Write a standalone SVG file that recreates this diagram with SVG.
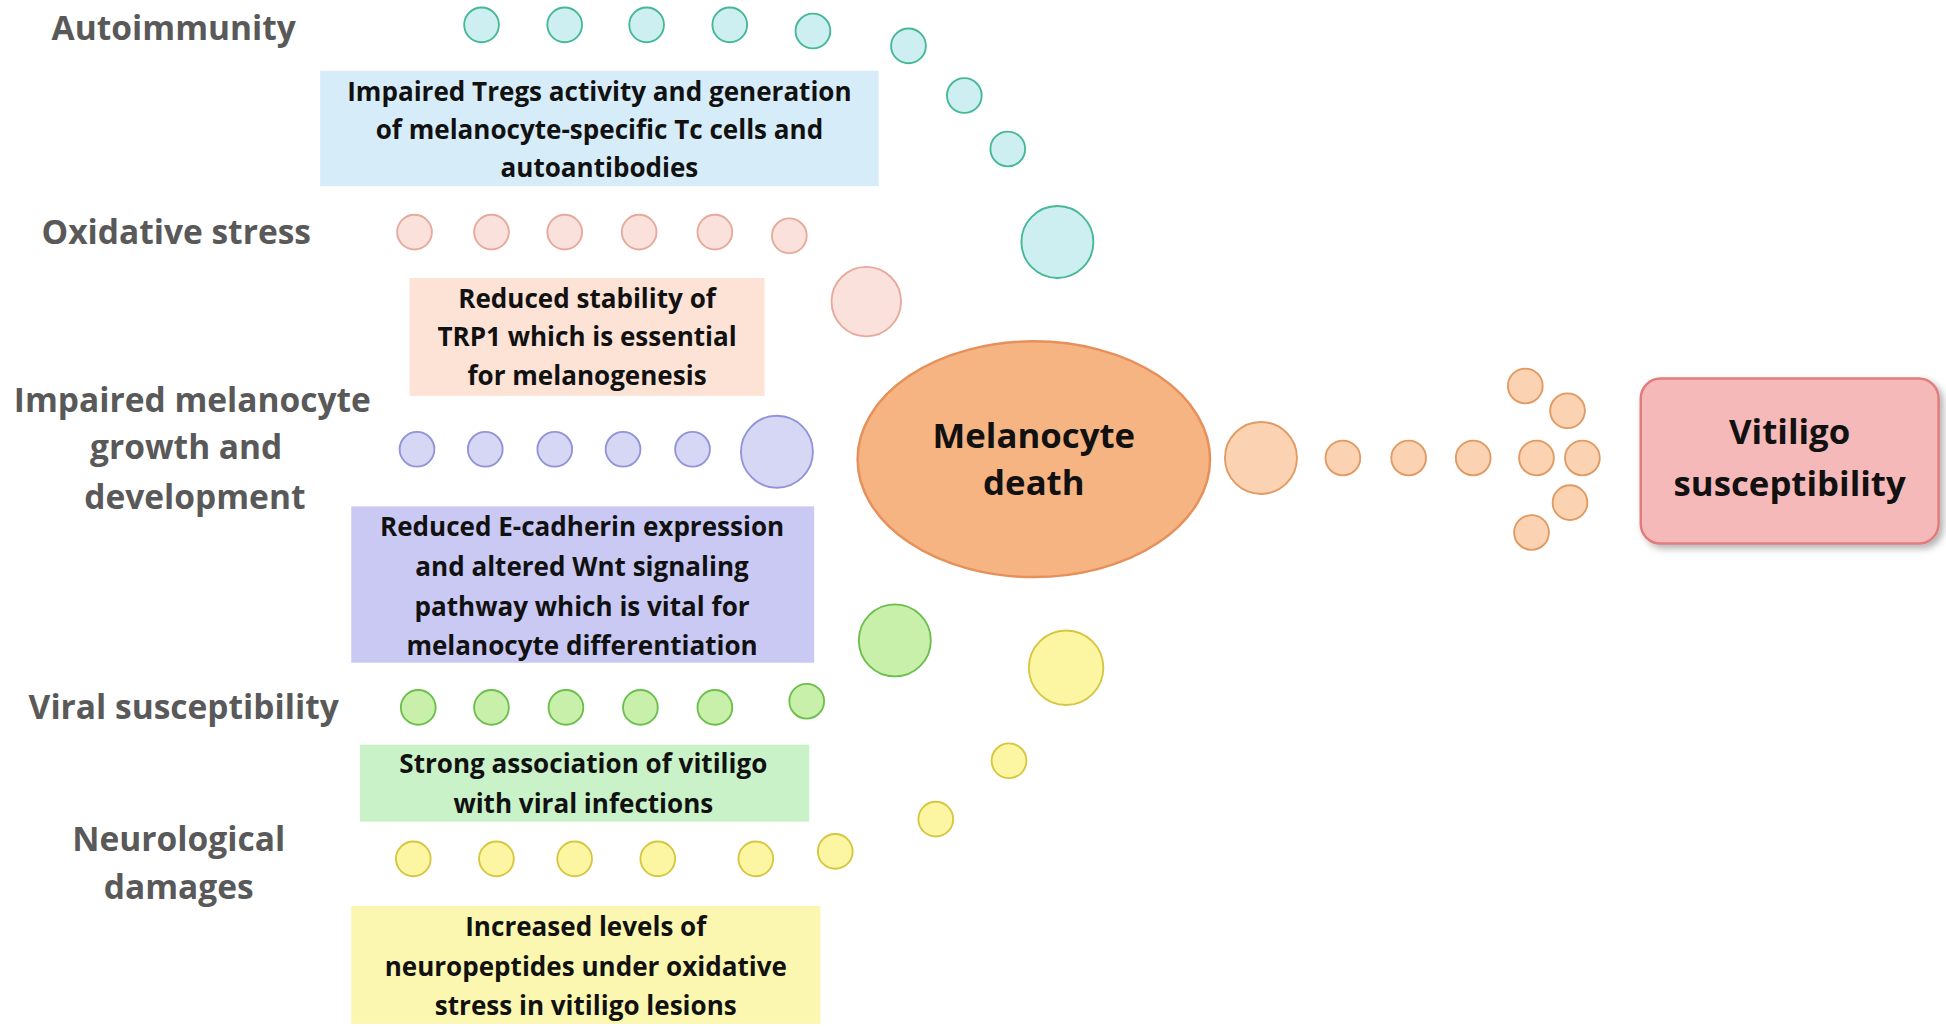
<svg xmlns="http://www.w3.org/2000/svg" width="1946" height="1028" viewBox="0 0 1946 1028">
<style>
.lab{font-family:"Open Sans","Liberation Sans",sans-serif;font-weight:bold;font-size:27px;fill:#595959;text-anchor:middle}
.bt{font-family:"Open Sans","Liberation Sans",sans-serif;font-weight:bold;font-size:21px;fill:#111;text-anchor:middle}
.big{font-family:"Open Sans","Liberation Sans",sans-serif;font-weight:bold;font-size:28px;fill:#111;text-anchor:middle}
.t circle{fill:#cdeff2;stroke:#45b896;stroke-width:1.5}
.p circle{fill:#fbe1dc;stroke:#e6aa9c;stroke-width:1.5}
.v circle{fill:#d6d6f5;stroke:#9393d8;stroke-width:1.5}
.g circle{fill:#c9f0aa;stroke:#6cbf4c;stroke-width:1.5}
.y circle{fill:#fcf6a2;stroke:#d6c640;stroke-width:1.5}
.o circle{fill:#fbd3b2;stroke:#e09a62;stroke-width:1.5}
</style>
<defs><filter id="sh" x="-10%" y="-10%" width="130%" height="130%"><feDropShadow dx="3" dy="3" stdDeviation="3" flood-opacity="0.3"/></filter></defs>
<g transform="scale(1.2411)">
<g id="connectors">
<g class="t"><circle cx="388" cy="20" r="14"/><circle cx="455" cy="20" r="14"/><circle cx="521" cy="20" r="14"/><circle cx="588" cy="20" r="14"/><circle cx="655" cy="25" r="14"/><circle cx="732" cy="37" r="14"/><circle cx="777" cy="77" r="14"/><circle cx="812" cy="120" r="14"/><circle cx="852" cy="195" r="29"/></g>
<g class="p"><circle cx="334" cy="187" r="14"/><circle cx="396" cy="187" r="14"/><circle cx="455" cy="187" r="14"/><circle cx="515" cy="187" r="14"/><circle cx="576" cy="187" r="14"/><circle cx="636" cy="190" r="14"/><circle cx="698" cy="243" r="28"/></g>
<g class="v"><circle cx="336" cy="362" r="14"/><circle cx="391" cy="362" r="14"/><circle cx="447" cy="362" r="14"/><circle cx="502" cy="362" r="14"/><circle cx="558" cy="362" r="14"/><circle cx="626" cy="364" r="29"/></g>
<g class="g"><circle cx="337" cy="570" r="14"/><circle cx="396" cy="570" r="14"/><circle cx="456" cy="570" r="14"/><circle cx="516" cy="570" r="14"/><circle cx="576" cy="570" r="14"/><circle cx="650" cy="565" r="14"/><circle cx="721" cy="516" r="29"/></g>
<g class="y"><circle cx="333" cy="692" r="14"/><circle cx="400" cy="692" r="14"/><circle cx="463" cy="692" r="14"/><circle cx="530" cy="692" r="14"/><circle cx="609" cy="692" r="14"/><circle cx="673" cy="686" r="14"/><circle cx="754" cy="660" r="14"/><circle cx="813" cy="613" r="14"/><circle cx="859" cy="538" r="30"/></g>
<g class="o"><circle cx="1016" cy="369" r="29"/><circle cx="1082" cy="369" r="14"/><circle cx="1135" cy="369" r="14"/><circle cx="1187" cy="369" r="14"/><circle cx="1229" cy="311" r="14"/><circle cx="1263" cy="331" r="14"/><circle cx="1238" cy="369" r="14"/><circle cx="1275" cy="369" r="14"/><circle cx="1265" cy="405" r="14"/><circle cx="1234" cy="429" r="14"/></g>
</g>
<g id="labels">
<text class="lab" x="140" y="32">Autoimmunity</text>
<text class="lab" x="142" y="197">Oxidative stress</text>
<text class="lab" x="155" y="332">Impaired melanocyte</text>
<text class="lab" x="150" y="370">growth and</text>
<text class="lab" x="157" y="410">development</text>
<text class="lab" x="148" y="579">Viral susceptibility</text>
<text class="lab" x="144" y="686">Neurological</text>
<text class="lab" x="144" y="724">damages</text>
</g>
<g id="box-auto"><rect x="258" y="57" width="450" height="93" fill="#d6ecf8"/>
<text class="bt" x="483" y="81">Impaired Tregs activity and generation</text><text class="bt" x="483" y="112">of melanocyte-specific Tc cells and</text><text class="bt" x="483" y="143">autoantibodies</text></g>
<g id="box-ox"><rect x="330" y="224" width="286" height="95" fill="#fde3d6"/>
<text class="bt" x="473" y="248">Reduced stability of</text><text class="bt" x="473" y="279">TRP1 which is essential</text><text class="bt" x="473" y="310">for melanogenesis</text></g>
<g id="box-growth"><rect x="283" y="408" width="373" height="126" fill="#c9c9f3"/>
<text class="bt" x="469" y="432">Reduced E-cadherin expression</text><text class="bt" x="469" y="464">and altered Wnt signaling</text><text class="bt" x="469" y="496">pathway which is vital for</text><text class="bt" x="469" y="528">melanocyte differentiation</text></g>
<g id="box-viral"><rect x="290" y="600" width="362" height="62" fill="#c9f2c9"/>
<text class="bt" x="470" y="623">Strong association of vitiligo</text><text class="bt" x="470" y="655">with viral infections</text></g>
<g id="box-neuro"><rect x="283" y="730" width="378" height="95" fill="#fbf7b0"/>
<text class="bt" x="472" y="754">Increased levels of</text><text class="bt" x="472" y="786">neuropeptides under oxidative</text><text class="bt" x="472" y="818">stress in vitiligo lesions</text></g>
<g id="melanocyte-death"><ellipse cx="833" cy="370" rx="142" ry="95" fill="#f5b482" stroke="#e6905a" stroke-width="2"/>
<text class="big" x="833" y="361">Melanocyte</text><text class="big" x="833" y="399">death</text></g>
<g id="vitiligo"><rect x="1322" y="305" width="240" height="133" rx="16" fill="#f6b9b9" stroke="#e07c7c" stroke-width="2" filter="url(#sh)"/>
<text class="big" x="1442" y="358">Vitiligo</text><text class="big" x="1442" y="400">susceptibility</text></g>
</g>
</svg>
